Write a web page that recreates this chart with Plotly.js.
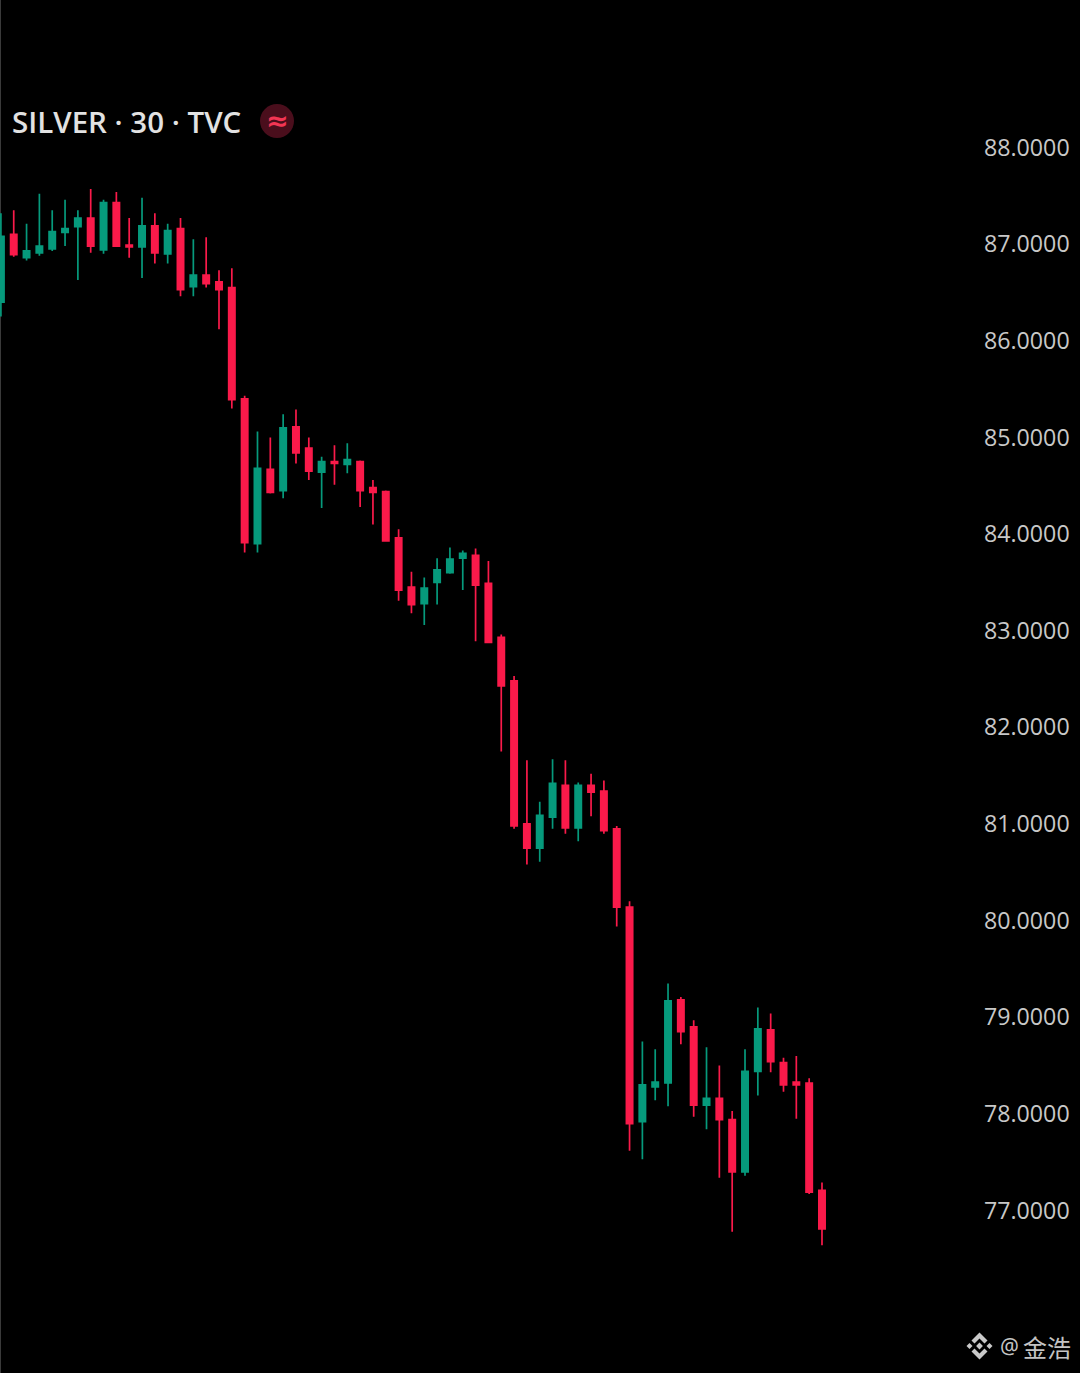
<!DOCTYPE html>
<html><head><meta charset="utf-8">
<script src="https://cdn.plot.ly/plotly-3.0.1.min.js"></script>
<style>html,body{margin:0;padding:0;background:#000}#c{width:1080px;height:1373px}</style>
</head><body><div id="c"></div>
<script>
const opens  = [86.40,87.10,86.86,86.91,86.95,87.12,87.18,87.27,86.94,87.43,86.99,86.97,87.19,86.90,87.16,86.56,86.68,86.61,86.55,85.40,83.90,84.67,84.45,85.11,84.89,84.64,84.75,84.72,84.75,84.48,84.44,83.96,83.45,83.28,83.50,83.60,83.75,83.78,83.49,82.93,82.48,81.00,80.75,81.07,81.40,80.96,81.40,81.34,80.95,80.14,77.92,78.28,78.32,79.18,78.90,78.09,78.16,77.94,77.40,78.44,78.87,78.53,78.33,78.32,77.21];
const highs  = [87.32,87.35,87.21,87.52,87.35,87.46,87.35,87.57,87.46,87.54,87.27,87.48,87.32,87.21,87.27,87.05,87.07,86.73,86.75,85.43,85.06,85.00,85.24,85.29,85.00,84.80,84.92,84.94,84.76,84.56,84.45,84.05,83.61,83.55,83.75,83.86,83.83,83.85,83.72,82.96,82.53,81.66,81.23,81.67,81.66,81.43,81.52,81.45,80.98,80.20,78.75,78.67,79.35,79.21,78.97,78.69,78.50,78.03,78.67,79.10,79.04,78.58,78.60,78.37,77.29];
const lows   = [86.25,86.87,86.83,86.88,86.93,86.98,86.63,86.91,86.90,86.97,86.86,86.65,86.80,86.80,86.46,86.46,86.55,86.12,85.30,83.81,83.81,84.42,84.37,84.73,84.56,84.27,84.51,84.63,84.28,84.10,83.93,83.31,83.18,83.06,83.27,83.59,83.42,82.89,82.88,81.75,80.95,80.58,80.61,80.95,80.90,80.82,81.08,80.90,79.94,77.62,77.53,78.14,78.08,78.72,77.97,77.84,77.34,76.78,77.36,78.19,78.43,78.23,77.95,77.17,76.64];
const closes = [87.08,86.89,86.93,86.98,87.13,87.16,87.27,86.98,87.43,86.98,86.97,87.19,86.91,87.14,86.53,86.68,86.59,86.53,85.39,83.91,84.68,84.43,85.10,84.84,84.65,84.75,84.73,84.77,84.45,84.43,83.93,83.42,83.27,83.44,83.63,83.74,83.80,83.47,82.88,82.43,80.98,80.75,81.09,81.42,80.96,81.40,81.33,80.93,80.14,77.90,78.30,78.33,79.17,78.85,78.09,78.16,77.94,77.40,78.44,78.88,78.54,78.30,78.30,77.19,76.81];
const bars = opens.map((_, i) => i);
const priceTicks = [77,78,79,80,81,82,83,84,85,86,87,88];
const titleText = "SILVER · 30 · TVC";
const watermarkAt = "@";
const watermarkName = "金浩";

const W = 1080, H = 1373, mr = 97, pw = W - mr;
const px = x => x / pw;
const py = y => 1 - y / H;
const poly = pts => pts.map((p, i) => (i ? 'L' : 'M') + px(p[0]) + ',' + py(p[1])).join(' ') + ' Z';
const logo = '#c9c9c9';
const cx = 979.5, cy = 1346;
const logoPaths = [
  [[cx,cy-3.4],[cx+3.4,cy],[cx,cy+3.4],[cx-3.4,cy]],
  [[cx-10,cy-3],[cx-7,cy],[cx-10,cy+3],[cx-13,cy]],
  [[cx+10,cy-3],[cx+13,cy],[cx+10,cy+3],[cx+7,cy]],
  [[cx,cy-13.5],[cx+8,cy-5.5],[cx+5,cy-2.6],[cx,cy-7.6],[cx-5,cy-2.6],[cx-8,cy-5.5]],
  [[cx,cy+13.5],[cx+8,cy+5.5],[cx+5,cy+2.6],[cx,cy+7.6],[cx-5,cy+2.6],[cx-8,cy+5.5]]
];

const trace = {
  type: 'candlestick', x: bars, open: opens, high: highs, low: lows, close: closes,
  increasing: {line: {color: '#069a7c', width: 1.7}, fillcolor: '#069a7c'},
  decreasing: {line: {color: '#fa1a4a', width: 1.7}, fillcolor: '#fa1a4a'},
  whiskerwidth: 0, hoverinfo: 'skip', showlegend: false
};
const layout = {
  width: W, height: H, paper_bgcolor: '#000', plot_bgcolor: '#000',
  margin: {l: 0, r: mr, t: 0, b: 0, pad: 0}, showlegend: false,
  xaxis: {range: [-0.07, 76.55], visible: false, rangeslider: {visible: false}, fixedrange: true},
  yaxis: {side: 'right', range: [75.319, 89.526], tickmode: 'array', tickvals: priceTicks,
    ticktext: priceTicks.map(v => v.toFixed(4)),
    showgrid: false, zeroline: false, showline: false, ticks: '', fixedrange: true,
    tickfont: {family: '"Open Sans", sans-serif', size: 23.2, color: '#c8c8c8'}},
  shapes: [
    {type: 'line', layer: 'below', xref: 'paper', yref: 'paper', x0: px(0.5), x1: px(0.5), y0: 0, y1: 1, line: {color: '#3a3a3a', width: 1}},
    {type: 'circle', xref: 'paper', yref: 'paper', x0: px(260), x1: px(294), y0: py(138), y1: py(104), fillcolor: '#4a0e1c', line: {width: 0}}
  ].concat(logoPaths.map(p => ({type: 'path', xref: 'paper', yref: 'paper', path: poly(p), fillcolor: logo, line: {width: 0}}))),
  annotations: [
    {xref: 'paper', yref: 'paper', x: px(10), y: py(122), xanchor: 'left', yanchor: 'middle', showarrow: false, text: titleText,
     font: {family: '"Open Sans", sans-serif', size: 29.5, weight: 600, color: '#e2e2e2'}},
    {xref: 'paper', yref: 'paper', x: px(277), y: py(120), xanchor: 'center', yanchor: 'middle', showarrow: false, text: '≈',
     font: {family: '"DejaVu Sans", sans-serif', size: 27, weight: 700, color: '#f23654'}},
    {xref: 'paper', yref: 'paper', x: px(1009.5), y: py(1346), xanchor: 'center', yanchor: 'middle', showarrow: false, text: watermarkAt,
     font: {family: '"Noto Sans", sans-serif', size: 21, color: '#c4c4c4'}},
    {xref: 'paper', yref: 'paper', x: px(1073), y: py(1346), xanchor: 'right', yanchor: 'middle', showarrow: false, text: watermarkName,
     font: {family: '"Noto Sans CJK SC", sans-serif', size: 24, color: '#c4c4c4'}}
  ]
};
Plotly.newPlot('c', [trace], layout, {displayModeBar: false, staticPlot: true});
</script></body></html>
